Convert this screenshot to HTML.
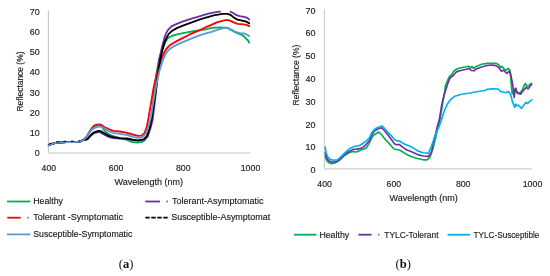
<!DOCTYPE html>
<html><head><meta charset="utf-8"><title>Reflectance spectra</title>
<style>
html,body{margin:0;padding:0;background:#fff;}
svg{display:block;}
text{font-family:"Liberation Sans",sans-serif;font-size:9.5px;fill:#1a1a1a;stroke:#1a1a1a;stroke-width:0.15;}
.cap{font-family:"Liberation Serif",serif;font-size:12.6px;fill:#111;stroke:none;}
.ln{fill:none;stroke-linejoin:round;stroke-linecap:round;}
</style></head><body>
<svg width="550" height="276" viewBox="0 0 550 276">
<rect width="550" height="276" fill="#fff"/>

<g stroke="#c6c6c6" stroke-width="1.1" fill="none"><path d="M48.4,10.5 V153 H250.6"/></g>
<text x="39.7" y="156.4" text-anchor="end" textLength="5" lengthAdjust="spacingAndGlyphs">0</text>
<text x="39.7" y="136.2" text-anchor="end" textLength="10" lengthAdjust="spacingAndGlyphs">10</text>
<text x="39.7" y="115.9" text-anchor="end" textLength="10" lengthAdjust="spacingAndGlyphs">20</text>
<text x="39.7" y="95.7" text-anchor="end" textLength="10" lengthAdjust="spacingAndGlyphs">30</text>
<text x="39.7" y="75.4" text-anchor="end" textLength="10" lengthAdjust="spacingAndGlyphs">40</text>
<text x="39.7" y="55.1" text-anchor="end" textLength="10" lengthAdjust="spacingAndGlyphs">50</text>
<text x="39.7" y="34.9" text-anchor="end" textLength="10" lengthAdjust="spacingAndGlyphs">60</text>
<text x="39.7" y="14.7" text-anchor="end" textLength="10" lengthAdjust="spacingAndGlyphs">70</text>
<text x="48.9" y="170.5" text-anchor="middle" textLength="14.6" lengthAdjust="spacingAndGlyphs">400</text>
<text x="116.1" y="170.5" text-anchor="middle" textLength="14.6" lengthAdjust="spacingAndGlyphs">600</text>
<text x="183.3" y="170.5" text-anchor="middle" textLength="14.6" lengthAdjust="spacingAndGlyphs">800</text>
<text x="250.5" y="170.5" text-anchor="middle" textLength="19.6" lengthAdjust="spacingAndGlyphs">1000</text>
<text x="148.8" y="185.2" text-anchor="middle" textLength="68.5" lengthAdjust="spacingAndGlyphs">Wavelength (nm)</text>
<text transform="translate(23,81.5) rotate(-90)" text-anchor="middle" textLength="60" lengthAdjust="spacingAndGlyphs">Reflectance (%)</text>
<path class="ln" d="M48.8,145.2 L51.0,144.2 L53.7,143.3 L59.2,142.5 L66.8,142.1 L73.4,142.1 L79.9,141.6 L83.2,140.0 L86.5,136.8 L89.5,131.6 L93.0,126.4 L95.2,124.8 L97.4,124.4 L100.0,125.2 L103.0,128.4 L105.5,131.8 L109.8,135.0 L114.2,136.3 L120.0,138.1 L127.0,139.8 L131.6,141.9 L137.1,142.6 L141.5,142.1 L144.7,140.2 L147.5,136.1 L149.8,128.4 L151.5,118.5 L154.5,88.0 L157.0,70.5 L159.1,58.9 L161.8,51.2 L165.1,42.5 L167.8,38.1 L171.6,36.0 L178.2,34.2 L185.8,32.7 L193.5,31.2 L200.5,30.1 L205.0,29.6 L211.5,27.9 L219.2,27.3 L226.8,27.6 L232.3,30.6 L237.7,33.4 L242.1,35.0 L245.4,37.8 L248.1,40.5 L249.2,42.7" stroke="#00b050" stroke-width="1.85"/>
<path class="ln" d="M48.8,145.2 L51.0,144.2 L53.7,143.3 L59.2,142.5 L66.8,142.1 L73.4,142.1 L79.9,141.6 L83.2,140.0 L85.5,139.8 L87.5,139.3 L90.8,135.8 L94.1,133.1 L99.5,131.9 L103.9,134.5 L108.7,136.8 L113.1,138.0 L119.6,138.6 L129.5,139.6 L138.2,140.8 L144.2,139.6 L147.6,136.8 L150.4,128.5 L152.6,119.9 L155.0,100.5 L157.0,80.5 L159.1,60.0 L161.3,50.1 L163.5,41.4 L164.3,38.0 L165.9,33.6 L168.1,29.8 L171.4,26.4 L176.8,23.8 L182.3,21.6 L187.7,19.9 L193.2,18.2 L198.6,16.6 L204.1,14.9 L209.5,13.3 L214.5,12.3 L218.0,11.8 L220.0,11.6" stroke="#7030a0" stroke-width="1.85"/>
<path class="ln" d="M230.6,11.8 L233.2,13.0 L236.5,15.2 L239.7,16.1 L244.1,16.9 L247.4,17.9 L249.2,19.6" stroke="#7030a0" stroke-width="1.85"/>
<path class="ln" d="M48.8,145.2 L51.0,144.2 L53.7,143.3 L59.2,142.5 L66.8,142.1 L73.4,142.1 L79.9,141.6 L83.2,140.0 L86.5,136.8 L89.7,131.8 L93.0,127.0 L96.3,125.2 L100.1,124.4 L104.4,127.0 L108.7,129.0 L113.1,130.8 L119.6,131.5 L127.3,132.9 L132.7,134.5 L138.2,135.9 L141.5,135.6 L144.7,132.9 L146.9,126.4 L148.5,118.0 L153.5,88.5 L157.5,70.5 L161.3,60.0 L163.5,54.0 L166.2,49.0 L170.5,44.7 L177.1,40.9 L183.6,37.6 L190.2,34.2 L195.0,32.1 L200.5,29.9 L205.9,27.2 L211.4,24.8 L216.8,22.3 L222.3,20.8 L226.6,19.9 L229.9,20.6 L233.2,22.1 L237.5,23.9 L241.9,24.2 L246.3,24.8 L249.2,26.1" stroke="#ff0000" stroke-width="1.85"/>
<path class="ln" d="M48.8,145.2 L51.0,144.2 L53.7,143.3 L59.2,142.5 L66.8,142.1 L73.4,142.1 L79.9,141.6 L83.2,140.0 L87.5,138.9 L90.8,135.0 L94.1,132.3 L98.5,130.8 L101.7,131.5 L104.4,133.4 L108.7,135.9 L113.1,137.2 L119.6,138.1 L127.3,138.5 L132.7,139.6 L138.2,140.3 L143.6,139.4 L146.9,136.1 L149.6,128.5 L151.8,118.0 L156.2,88.5 L158.5,70.5 L160.2,60.0 L162.4,50.1 L164.5,42.5 L166.5,38.0 L168.6,34.1 L171.4,31.3 L176.8,28.1 L182.3,25.9 L187.7,23.8 L193.2,21.8 L198.6,19.9 L204.1,18.2 L209.5,16.6 L214.5,15.2 L216.8,14.8 L222.3,13.8 L227.7,13.9 L231.0,15.2 L234.3,17.9 L237.5,19.6 L241.9,20.6 L246.3,21.6 L249.2,23.4" stroke="#000000" stroke-width="1.85"/>
<path class="ln" d="M48.8,145.2 L51.0,144.2 L53.7,143.3 L59.2,142.5 L66.8,142.1 L73.4,142.1 L79.9,141.6 L83.2,140.0 L86.5,136.8 L88.6,133.9 L91.9,129.6 L95.2,127.5 L99.5,126.4 L103.9,128.0 L108.7,131.2 L113.1,132.9 L119.6,133.9 L127.3,135.0 L132.7,136.8 L138.2,137.8 L142.5,137.2 L145.8,133.9 L148.5,126.4 L150.7,118.0 L155.6,88.5 L159.5,70.5 L162.9,60.0 L165.6,54.0 L168.4,50.1 L172.7,46.9 L179.3,43.6 L185.8,40.9 L192.4,38.1 L199.5,35.4 L205.0,33.7 L211.5,31.8 L218.1,29.6 L223.5,28.1 L227.9,27.9 L231.2,29.6 L235.5,31.8 L239.9,33.2 L244.3,33.4 L247.5,35.0 L249.2,36.1" stroke="#5b9bd5" stroke-width="1.85"/>
<path class="ln" d="M48.8,144.3 L51.0,143.3 L53.7,142.4 L59.2,141.6 L66.8,141.2 L73.4,141.2 L79.9,140.7" stroke="#000000" stroke-width="1" stroke-dasharray="3 4.5" style="stroke-linecap:butt"/>
<path d="M7,201.5 H30.4" stroke="#00b050" stroke-width="1.8" fill="none"/>
<text x="33.2" y="204.1" textLength="29.8" lengthAdjust="spacingAndGlyphs">Healthy</text>
<path d="M145.3,201.5 H160" stroke="#7030a0" stroke-width="1.8" fill="none"/>
<path d="M166.5,201.5 H167.7" stroke="#7030a0" stroke-width="1.8"/>
<text x="172" y="204.1" textLength="91.6" lengthAdjust="spacingAndGlyphs">Tolerant-Asymptomatic</text>
<path d="M7.3,217.7 H20.6" stroke="#ff0000" stroke-width="1.8" fill="none"/>
<path d="M27.2,217.7 H28.4" stroke="#ff0000" stroke-width="1.8"/>
<text x="33.2" y="220.3" textLength="89.8" lengthAdjust="spacingAndGlyphs">Tolerant -Symptomatic</text>
<path d="M145.3,217.7 H169.4" stroke="#000000" stroke-width="1.8" fill="none" stroke-dasharray="4.4 1.6"/>
<text x="171.2" y="220.3" textLength="99" lengthAdjust="spacingAndGlyphs">Susceptible-Asymptomat</text>
<path d="M7,234.4 H30.4" stroke="#5b9bd5" stroke-width="1.8" fill="none"/>
<text x="33.2" y="237.2" textLength="99.2" lengthAdjust="spacingAndGlyphs">Susceptible-Symptomatic</text>
<text class="cap" x="126.2" y="267.9" text-anchor="middle">(<tspan font-weight="bold">a</tspan>)</text>
<g stroke="#d0d0d0" stroke-width="1.2" fill="none"><path d="M324.4,9 V168.8 H532.2"/></g>
<text x="315.5" y="173.2" text-anchor="end" textLength="5" lengthAdjust="spacingAndGlyphs">0</text>
<text x="315.5" y="150.4" text-anchor="end" textLength="10" lengthAdjust="spacingAndGlyphs">10</text>
<text x="315.5" y="127.6" text-anchor="end" textLength="10" lengthAdjust="spacingAndGlyphs">20</text>
<text x="315.5" y="104.8" text-anchor="end" textLength="10" lengthAdjust="spacingAndGlyphs">30</text>
<text x="315.5" y="82.0" text-anchor="end" textLength="10" lengthAdjust="spacingAndGlyphs">40</text>
<text x="315.5" y="59.2" text-anchor="end" textLength="10" lengthAdjust="spacingAndGlyphs">50</text>
<text x="315.5" y="36.4" text-anchor="end" textLength="10" lengthAdjust="spacingAndGlyphs">60</text>
<text x="315.5" y="13.6" text-anchor="end" textLength="10" lengthAdjust="spacingAndGlyphs">70</text>
<text x="324.6" y="186.7" text-anchor="middle" textLength="14.6" lengthAdjust="spacingAndGlyphs">400</text>
<text x="393.9" y="186.7" text-anchor="middle" textLength="14.6" lengthAdjust="spacingAndGlyphs">600</text>
<text x="463.2" y="186.7" text-anchor="middle" textLength="14.6" lengthAdjust="spacingAndGlyphs">800</text>
<text x="532.5" y="186.7" text-anchor="middle" textLength="19.6" lengthAdjust="spacingAndGlyphs">1000</text>
<text x="423.7" y="201.2" text-anchor="middle" textLength="68.3" lengthAdjust="spacingAndGlyphs">Wavelength (nm)</text>
<text transform="translate(299,75) rotate(-90)" text-anchor="middle" textLength="60.8" lengthAdjust="spacingAndGlyphs">Reflectance (%)</text>
<path class="ln" d="M325.2,155.9 L326.5,160.2 L328.7,162.6 L331.5,163.8 L335.3,162.9 L339.6,160.2 L344.0,155.9 L348.4,153.1 L352.7,151.5 L356.5,152.0 L360.4,150.2 L364.7,148.8 L366.4,147.9 L369.6,142.4 L372.4,136.4 L375.1,134.2 L378.9,132.0 L381.6,134.8 L384.9,139.1 L388.2,142.4 L391.5,146.2 L394.0,149.0 L400.0,150.3 L405.8,153.9 L411.6,156.8 L417.5,158.5 L423.3,159.8 L426.9,159.8 L429.8,157.5 L432.7,149.5 L435.6,137.9 L437.8,127.8 L440.2,118.2 L442.9,102.2 L444.5,92.5 L445.6,85.0 L447.8,80.0 L450.0,75.7 L451.6,75.0 L453.3,71.9 L455.5,69.7 L459.8,68.0 L465.3,67.0 L468.5,66.2 L470.7,68.0 L472.0,66.4 L473.5,68.5 L476.2,66.4 L481.6,64.3 L487.1,63.4 L492.5,63.4 L496.5,63.4 L499.2,65.2 L500.8,67.5 L502.2,66.4 L504.1,69.0 L506.3,70.2 L508.1,68.4 L509.9,70.2 L510.6,76.2 L511.4,86.0 L512.3,93.8 L513.5,91.5 L514.6,89.0 L516.0,91.0 L518.5,93.0 L520.5,92.5 L522.6,89.4 L524.3,85.0 L525.4,83.4 L526.5,86.0 L528.1,86.0 L529.7,84.5 L531.4,83.4" stroke="#00b050" stroke-width="1.65"/>
<path class="ln" d="M325.2,152.6 L326.5,157.5 L328.7,160.8 L332.0,162.2 L336.4,161.5 L340.7,158.6 L345.1,154.2 L349.5,151.3 L353.8,149.3 L357.1,149.1 L360.4,148.4 L363.6,147.1 L366.4,144.0 L369.6,140.2 L372.4,133.8 L375.1,130.4 L378.4,128.8 L381.6,127.8 L384.4,130.4 L388.2,135.3 L391.5,139.8 L394.2,143.5 L395.8,144.6 L399.6,144.6 L402.9,147.3 L405.8,149.4 L411.6,151.8 L417.5,154.6 L423.3,156.0 L428.4,156.4 L431.3,152.4 L434.2,139.4 L437.1,127.8 L439.6,118.2 L441.8,104.4 L444.0,95.5 L447.3,85.0 L449.5,79.0 L451.1,76.8 L452.7,76.2 L454.4,74.0 L456.5,71.9 L459.8,70.8 L465.3,69.5 L469.1,68.5 L471.3,70.5 L474.0,70.8 L476.2,69.0 L481.6,67.0 L487.1,65.5 L492.5,65.0 L496.5,65.9 L499.2,68.0 L501.4,71.2 L503.5,70.2 L506.8,73.5 L509.0,71.2 L510.6,74.0 L511.7,79.5 L512.8,85.0 L513.6,92.7 L514.2,97.5 L515.0,90.5 L515.9,88.2 L516.9,92.7 L518.8,93.8 L520.5,94.2 L522.6,91.5 L524.8,88.9 L526.5,87.2 L528.1,88.9 L529.7,86.7 L531.7,84.0" stroke="#7030a0" stroke-width="1.65"/>
<path class="ln" d="M325.2,147.1 L326.0,152.6 L327.6,156.4 L329.8,159.1 L333.1,160.2 L337.5,159.8 L341.8,155.9 L346.2,151.5 L350.5,148.2 L354.9,146.3 L359.3,145.5 L362.0,144.0 L366.4,140.8 L369.6,137.5 L371.8,132.6 L375.1,128.8 L378.4,127.2 L382.2,126.0 L384.9,128.8 L388.2,132.6 L391.5,135.9 L394.7,139.8 L396.9,140.8 L399.6,140.8 L402.4,142.9 L405.6,144.6 L410.0,146.2 L413.3,147.9 L417.5,150.9 L423.3,152.8 L428.4,153.1 L431.3,146.6 L434.9,136.4 L438.5,127.8 L440.7,122.5 L444.0,111.7 L447.3,104.0 L450.5,99.7 L454.9,96.2 L461.5,94.2 L470.2,93.0 L476.7,91.8 L485.0,90.5 L487.2,89.2 L492.6,88.9 L498.1,89.0 L500.3,91.4 L503.0,92.0 L505.7,92.7 L507.9,91.5 L509.9,93.2 L511.2,96.5 L512.3,101.4 L513.6,104.7 L514.7,107.4 L515.5,104.0 L516.6,105.8 L518.3,105.2 L520.5,107.4 L521.5,108.5 L523.2,105.8 L525.9,102.5 L527.5,103.5 L529.7,101.4 L531.9,99.8" stroke="#00b0f0" stroke-width="1.65"/>
<path d="M294,234.7 H316.4" stroke="#00b050" stroke-width="1.8" fill="none"/>
<text x="319.4" y="237.6" textLength="29.8" lengthAdjust="spacingAndGlyphs">Healthy</text>
<path d="M358.4,234.7 H371.6" stroke="#7030a0" stroke-width="1.8" fill="none"/>
<path d="M378.2,234.7 H379.4" stroke="#7030a0" stroke-width="1.8"/>
<text x="384.3" y="237.6" textLength="54.2" lengthAdjust="spacingAndGlyphs">TYLC-Tolerant</text>
<path d="M447.6,234.7 H470.2" stroke="#00b0f0" stroke-width="1.8" fill="none"/>
<text x="473.6" y="237.6" textLength="65.8" lengthAdjust="spacingAndGlyphs">TYLC-Susceptible</text>
<text class="cap" x="403.2" y="267.9" text-anchor="middle">(<tspan font-weight="bold">b</tspan>)</text>
</svg>
</body></html>
